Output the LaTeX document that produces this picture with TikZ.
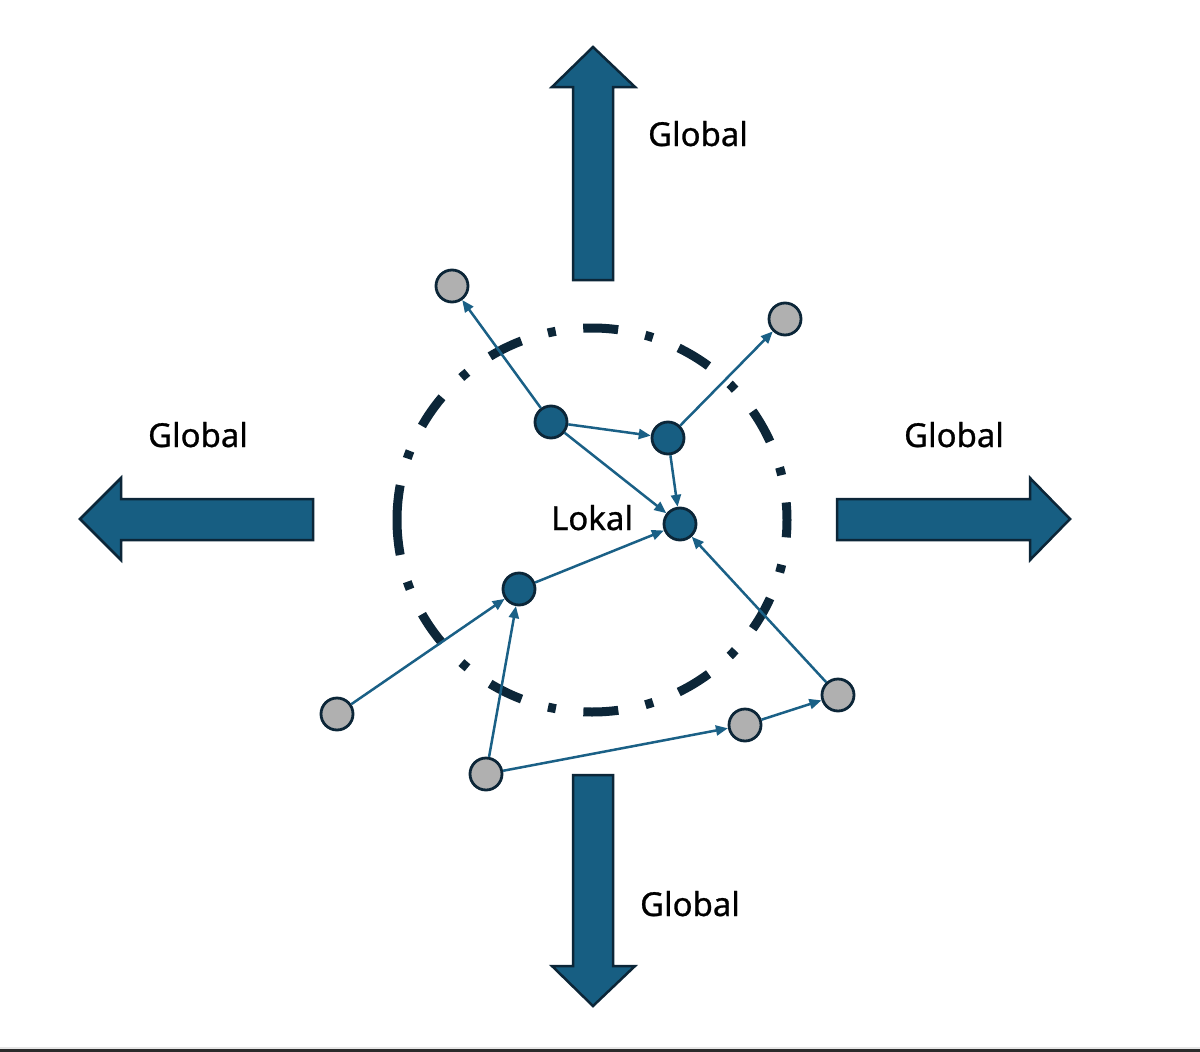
\documentclass[tikz,border=0pt]{standalone}
\usepackage{fontspec}
\newfontfamily\lblfont{Noto Sans}[FakeBold=0.8]
\usetikzlibrary{arrows.meta}
\definecolor{bluefill}{RGB}{23,94,130}
\definecolor{darkline}{RGB}{12,38,56}
\definecolor{edgeblue}{RGB}{26,96,134}
\definecolor{grayfill}{RGB}{176,176,176}
\definecolor{barlight}{RGB}{230,230,230}
\definecolor{bardark}{RGB}{43,43,43}
\tikzset{
  bigarrow/.style={fill=bluefill, draw=darkline, line width=2.5pt, line join=miter},
  bluenode/.style={circle, fill=bluefill, draw=darkline, line width=2.8pt, minimum size=32pt, inner sep=0pt},
  graynode/.style={circle, fill=grayfill, draw=darkline, line width=2.8pt, minimum size=32pt, inner sep=0pt},
  edge/.style={draw=edgeblue, line width=2.5pt, -{Triangle[length=12pt,width=10pt]}},
  lbl/.style={anchor=base, font=\lblfont\fontsize{33}{38}\selectfont, text=black, inner sep=0pt},
  ring/.style={draw=darkline, line width=9pt, line cap=butt, dash pattern=on 35pt off 27.7pt on 8pt off 27.7pt}
}
\begin{document}
\begin{tikzpicture}[x=1pt,y=-1pt]
\useasboundingbox (0,0) rectangle (1200,1052);
\fill[white] (0,0) rectangle (1200,1052);
% bottom bar
\fill[barlight] (0,1046.5) rectangle (1200,1048.7);
\fill[bardark] (0,1048.7) rectangle (1200,1052);
% big arrows
\draw[bigarrow] (573,280) -- (573,87) -- (552,87) -- (593,47) -- (635,87) -- (613,87) -- (613,280) -- cycle;
\draw[bigarrow] (573,775) -- (573,966) -- (552,966) -- (593,1006) -- (635,966) -- (613,966) -- (613,775) -- cycle;
\draw[bigarrow] (313,499) -- (121,499) -- (121,478) -- (80,519) -- (121,560) -- (121,540) -- (313,540) -- cycle;
\draw[bigarrow] (837,499) -- (1030,499) -- (1030,478) -- (1070,519) -- (1030,560) -- (1030,540) -- (837,540) -- cycle;
% labels
\node[lbl] (gtop) at (698,146) {Global};
\node[lbl] (gleft) at (198,447) {Global};
\node[lbl] (gright) at (954,447) {Global};
\node[lbl] (gbottom) at (690,916) {Global};
\node[lbl] (lokal) at (592,530) {Lokal};
% dashed ring
\draw[ring] (397,520) arc[start angle=180, end angle=-180, x radius=195pt, y radius=192pt];
% nodes
\node[bluenode] (A) at (551,422) {};
\node[bluenode] (B) at (668,438) {};
\node[bluenode] (C) at (680,524) {};
\node[bluenode] (D) at (519,589) {};
\node[graynode] (G1) at (452,286) {};
\node[graynode] (G2) at (785,319) {};
\node[graynode] (G3) at (337,714) {};
\node[graynode] (G4) at (486,774) {};
\node[graynode] (G5) at (745,725) {};
\node[graynode] (G6) at (838,695) {};
% edges
\draw[edge] (A) -- (G1);
\draw[edge] (A) -- (B);
\draw[edge] (A) -- (C);
\draw[edge] (B) -- (G2);
\draw[edge] (B) -- (C);
\draw[edge] (D) -- (C);
\draw[edge] (G3) -- (D);
\draw[edge] (G4) -- (D);
\draw[edge] (G4) -- (G5);
\draw[edge] (G5) -- (G6);
\draw[edge] (G6) -- (C);
\end{tikzpicture}
\end{document}
